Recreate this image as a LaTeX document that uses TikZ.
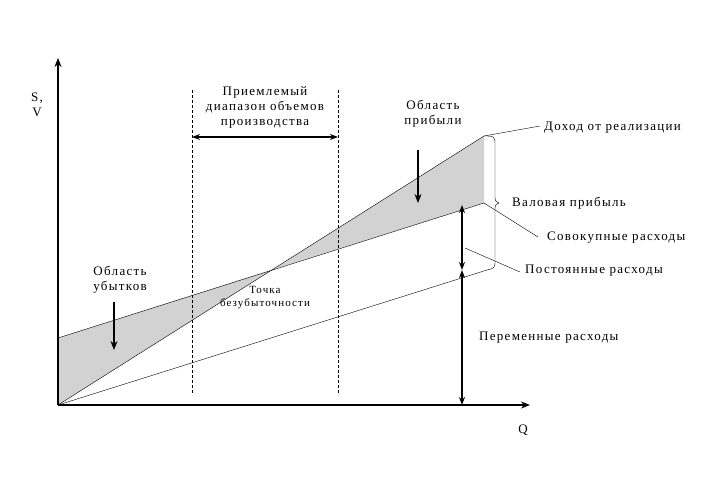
\documentclass[tikz,border=0pt]{standalone}
\usepackage{fontspec}
\setmainfont[LetterSpace=10]{Liberation Serif}
\usetikzlibrary{arrows.meta}

\begin{document}
\begin{tikzpicture}[x=1pt,y=-1pt,
    axis/.style={line width=2pt, -{Stealth[length=9pt,width=7pt]}},
    dim/.style={line width=2pt, {Stealth[length=8pt,width=6pt]}-{Stealth[length=8pt,width=6pt]}},
    pointer/.style={line width=2.4pt, -{Stealth[length=9pt,width=7pt]}},
    guide/.style={thick, dashed, dash pattern=on 3pt off 2pt},
    lbl/.style={font=\fontsize{13}{15}\selectfont, align=center, inner sep=1pt}]
    \useasboundingbox (0,0) rectangle (705,495);

    % Key points
    \coordinate (O) at (58,405);
    \coordinate (Fc) at (58,338);
    \coordinate (Rev) at (484,136);
    \coordinate (Tc) at (484,203);
    \coordinate (Vc) at (487,270);
    \coordinate (Be) at (272.6,269.5);

    % Loss and profit areas
    \fill[gray!35] (O) -- (Fc) -- (Be) -- cycle;
    \fill[gray!35] (Be) -- (Rev) -- (Tc) -- cycle;

    % Revenue, total and variable costs
    \draw (O) -- (Rev);
    \draw (Fc) -- (Tc);
    \draw (O) -- (Vc);

    % Axes
    \draw[axis] (O) -- (58,58);
    \draw[axis] (O) -- (530,405);
    \node[lbl, align=center] (sv) at (37,105) {S,\\V};
    \node[lbl] (q) at (523,430) {Q};

    % Acceptable range
    \draw[guide] (192,90) -- (192,395);
    \draw[guide] (338,90) -- (338,395);
    \draw[dim] (192,137) -- (338,137);
    \node[lbl] (range) at (265,107) {Приемлемый\\диапазон объемов\\производства};

    % Areas
    \node[lbl] (loss) at (120,280) {Область\\убытков};
    \draw[pointer] (114,302) -- (114,350);
    \node[lbl] (profit) at (433,114) {Область\\прибыли};
    \draw[pointer] (418,150) -- (418,203);
    \node[lbl, font=\fontsize{11}{13}\selectfont] (be) at (265,298) {Точка\\безубыточности};

    % Cost arrows
    \draw[dim] (462,205) -- (462,270);
    \draw[dim] (462,270) -- (462,405);

    % Brace
    \draw (Rev) .. controls (495,136) .. (495,146) -- (495,195)
          .. controls (495,201) .. (499,203) .. controls (495,205) .. (495,211)
          -- (495,260) .. controls (495,268) .. (Vc);

    % Leaders and labels
    \node[lbl, anchor=west] (inc) at (543,128) {Доход от реализации};
    \draw (Rev) -- (540,126);
    \node[lbl, anchor=west] (gp) at (511,203) {Валовая прибыль};
    \node[lbl, anchor=west] (tot) at (546,238) {Совокупные расходы};
    \draw (Tc) -- (538,237);
    \node[lbl, anchor=west] (fix) at (524,271) {Постоянные расходы};
    \draw (465,248) -- (520,272);
    \node[lbl, anchor=west] (var) at (478,338) {Переменные расходы};
\end{tikzpicture}
\end{document}
